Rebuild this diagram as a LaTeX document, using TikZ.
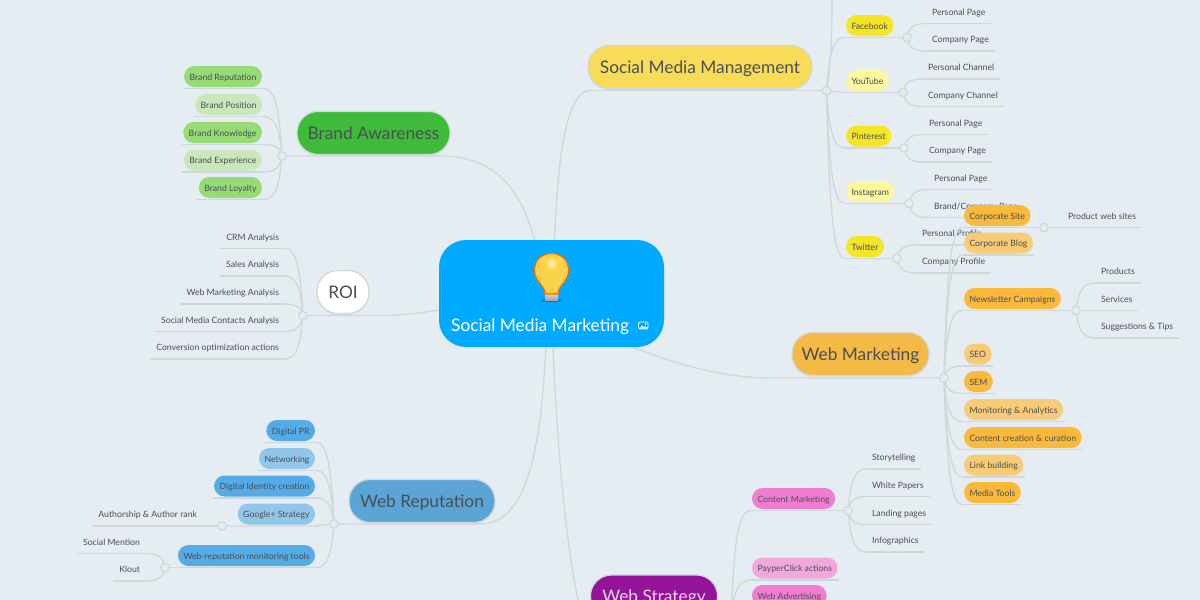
\documentclass[tikz,border=0pt]{standalone}
\usepackage{fontspec}
\setmainfont{Lato}
\usetikzlibrary{calc}
\usetikzlibrary{shadows}
\definecolor{mback}{HTML}{E5EDF2}
\definecolor{mlink}{HTML}{CFD7DB}
\definecolor{mtext}{HTML}{4A4F55}
\definecolor{mroot}{HTML}{00AAFF}
\definecolor{mgreen}{HTML}{97DB77}
\definecolor{mgreenl}{HTML}{C8E8BC}
\definecolor{mgreend}{HTML}{3EBB38}
\definecolor{myellow}{HTML}{F5E527}
\definecolor{myellowl}{HTML}{FBF8A0}
\definecolor{myellowd}{HTML}{F8DC58}
\definecolor{morange}{HTML}{FAB93A}
\definecolor{morangel}{HTML}{F8CB76}
\definecolor{moranged}{HTML}{F5B945}
\definecolor{mblue}{HTML}{55ABE5}
\definecolor{mbluel}{HTML}{90C6EA}
\definecolor{mblued}{HTML}{5AA5D6}
\definecolor{mpink}{HTML}{F07DD0}
\definecolor{mpinkl}{HTML}{F2A8DE}
\definecolor{mpurple}{HTML}{95149A}
\definecolor{mbulba}{HTML}{FFF3C0}
\definecolor{mbulbb}{HTML}{F9D348}
\definecolor{mbulbc}{HTML}{F09A1C}
\pgfdeclareradialshading{mbulb}{\pgfpoint{0bp}{14bp}}{color(0bp)=(mbulba); color(9bp)=(mbulbb); color(26bp)=(mbulbb); color(40bp)=(mbulbc); color(50bp)=(mbulbc)}
\tikzset{
  link/.style={draw=mlink, line width=1.3pt},
  joint/.style={circle, draw=mlink, line width=1.2pt, fill=mback, minimum size=8.5pt, inner sep=0pt},
  topic/.style={rounded corners=21pt, fill=#1, draw=mlink, line width=1.2pt, text=mtext, font=\fontsize{17.3}{20}\selectfont,
    minimum height=43pt, inner xsep=8pt, inner ysep=0pt, text height=12.6pt, text depth=0pt,
    drop shadow={opacity=0.10, shadow xshift=0pt, shadow yshift=-1.5pt}},
  pill/.style={rounded corners=10.5pt, fill=#1, text=mtext, font=\fontsize{8.7}{11}\selectfont, minimum height=21pt,
    inner xsep=5.5pt, inner ysep=0pt, text height=7.4pt, text depth=0pt, outer sep=1.5pt},
  leaf/.style={text=mtext, font=\fontsize{8.7}{11}\selectfont, minimum height=24pt, inner xsep=6pt, inner ysep=0pt,
    text height=7.4pt, text depth=0pt, outer sep=0pt},
}
% junction, end point, sideways offset of the curve
\newcommand{\branchline}[3]{\draw[link] (#1) .. controls ($(#1)!0.7!(#1 |- #2)+(#3*0.4,0)$) and ($(#1 |- #2)+(#3,0)$) .. (#2);}
\newcommand{\rightleaf}[2]{\branchline{#1}{#2.south west}{7}\draw[link] (#2.south west) -- (#2.south east);}
\newcommand{\leftleaf}[2]{\branchline{#1}{#2.south east}{-7}\draw[link] (#2.south east) -- (#2.south west);}
\begin{document}
\begin{tikzpicture}[x=1pt, y=-1pt]
  \clip (0, 0) rectangle (1200, 600);
  \fill [mback] (0, 0) rectangle (1200, 600);

  % brand awareness
  \node [topic=mgreend, minimum width=153pt] (brand) at (373.5, 133) {Brand Awareness};
  \node [joint] (jbrand) at (282, 156) {};
  \node [pill=mgreen, anchor=south east] (breputation) at (263.5, 88.5) {Brand Reputation};
  \node [pill=mgreenl, anchor=south east] (bposition) at (263.5, 116.5) {Brand Position};
  \node [pill=mgreen, anchor=south east] (bknowledge) at (263.5, 144.5) {Brand Knowledge};
  \node [pill=mgreenl, anchor=south east] (bexperience) at (263.5, 172) {Brand Experience};
  \node [pill=mgreen, anchor=south east] (bloyalty) at (263.5, 199.5) {Brand Loyalty};
  \leftleaf{jbrand}{breputation}
  \leftleaf{jbrand}{bposition}
  \leftleaf{jbrand}{bknowledge}
  \leftleaf{jbrand}{bexperience}
  \leftleaf{jbrand}{bloyalty}

  % roi
  \node [topic=white, minimum width=52pt, inner xsep=2pt] (roi) at (343, 292) {ROI};
  \node [joint] (jroi) at (303, 315.5) {};
  \node [leaf, anchor=south east] (rcrm) at (285, 248.5) {CRM Analysis};
  \node [leaf, anchor=south east] (rsales) at (285, 276) {Sales Analysis};
  \node [leaf, anchor=south east] (rweb) at (285, 304) {Web Marketing Analysis};
  \node [leaf, anchor=south east] (rsocial) at (285, 331.5) {Social Media Contacts Analysis};
  \node [leaf, anchor=south east] (rconv) at (285, 359) {Conversion optimization actions};
  \leftleaf{jroi}{rcrm}
  \leftleaf{jroi}{rsales}
  \leftleaf{jroi}{rweb}
  \leftleaf{jroi}{rsocial}
  \leftleaf{jroi}{rconv}

  % web reputation
  \node [topic=mblued, minimum width=146pt] (reputation) at (422, 501) {Web Reputation};
  \node [joint] (jrep) at (334, 524) {};
  \node [pill=mblue, anchor=south east] (rdigital) at (316.5, 442.5) {Digital PR};
  \node [pill=mbluel, anchor=south east] (rnetwork) at (316.5, 470.5) {Networking};
  \node [pill=mblue, anchor=south east] (ridentity) at (316.5, 498) {Digital Identity creation};
  \node [pill=mbluel, anchor=south east] (rgoogle) at (316.5, 526) {Google+ Strategy};
  \node [pill=mblue, anchor=south east] (rmonitor) at (316.5, 567.5) {Web-reputation monitoring tools};
  \node [joint] (jgoogle) at (222, 526) {};
  \node [joint] (jmonitor) at (165, 567.5) {};
  \node [leaf, anchor=south east] (rauthor) at (203, 526) {Authorship \& Author rank};
  \node [leaf, anchor=south east] (rmention) at (146, 553.5) {Social Mention};
  \node [leaf, anchor=south east] (rklout) at (146, 581) {Klout};
  \leftleaf{jrep}{rdigital}
  \leftleaf{jrep}{rnetwork}
  \leftleaf{jrep}{ridentity}
  \leftleaf{jrep}{rmonitor}
  \draw [link] (jrep) -- (rgoogle.south east) -- (rgoogle.south west) -- (jgoogle);
  \draw [link] (jgoogle) -- (rauthor.south east) -- (rauthor.south west);
  \draw [link] (rmonitor.south west) -- (jmonitor);
  \leftleaf{jmonitor}{rmention}
  \leftleaf{jmonitor}{rklout}

  % social media management
  \node [topic=myellowd, minimum width=224pt] (social) at (700, 67) {Social Media Management};
  \node [joint] (jsocial) at (826.5, 90.5) {};
  \node [pill=myellow, anchor=south west] (facebook) at (844.5, 37.5) {Facebook};
  \node [pill=myellowl, anchor=south west] (youtube) at (844.5, 92.5) {YouTube};
  \node [pill=myellow, anchor=south west] (pinterest) at (844.5, 148) {Pinterest};
  \node [pill=myellowl, anchor=south west] (instagram) at (844.5, 203.5) {Instagram};
  \node [pill=myellow, anchor=south west] (twitter) at (844.5, 258.5) {Twitter};
  \node [joint] (jfacebook) at (907, 37.5) {};
  \node [joint] (jyoutube) at (903, 92.5) {};
  \node [joint] (jpinterest) at (904, 148) {};
  \node [joint] (jinstagram) at (909, 203.5) {};
  \node [joint] (jtwitter) at (897, 258.5) {};
  \node [leaf, anchor=south west] (fpersonal) at (926, 23.5) {Personal Page};
  \node [leaf, anchor=south west] (fcompany) at (926, 51) {Company Page};
  \node [leaf, anchor=south west] (ypersonal) at (922, 79) {Personal Channel};
  \node [leaf, anchor=south west] (ycompany) at (922, 106.5) {Company Channel};
  \node [leaf, anchor=south west] (ppersonal) at (923, 134.5) {Personal Page};
  \node [leaf, anchor=south west] (pcompany) at (923, 162) {Company Page};
  \node [leaf, anchor=south west] (ipersonal) at (928, 189.5) {Personal Page};
  \node [leaf, anchor=south west] (icompany) at (928, 217.5) {Brand/Company Page};
  \node [leaf, anchor=south west] (tpersonal) at (916, 245) {Personal Profile};
  \node [leaf, anchor=south west] (tcompany) at (916, 273) {Company Profile};
  \coordinate (topend) at (832, 0);
  \draw [link] (jsocial) .. controls (830, 70) and (832, 40) .. (topend);
  \rightleaf{jsocial}{facebook}
  \draw [link] (jsocial) -- (youtube.south west) -- (youtube.south east) -- (jyoutube);
  \rightleaf{jsocial}{pinterest}
  \rightleaf{jsocial}{instagram}
  \rightleaf{jsocial}{twitter}
  \draw [link] (facebook.south east) -- (jfacebook);
  \draw [link] (pinterest.south east) -- (jpinterest);
  \draw [link] (instagram.south east) -- (jinstagram);
  \draw [link] (twitter.south east) -- (jtwitter);
  \rightleaf{jfacebook}{fpersonal}
  \rightleaf{jfacebook}{fcompany}
  \rightleaf{jyoutube}{ypersonal}
  \rightleaf{jyoutube}{ycompany}
  \rightleaf{jpinterest}{ppersonal}
  \rightleaf{jpinterest}{pcompany}
  \rightleaf{jinstagram}{ipersonal}
  \rightleaf{jinstagram}{icompany}
  \rightleaf{jtwitter}{tpersonal}
  \rightleaf{jtwitter}{tcompany}

  % web marketing
  \node [topic=moranged, minimum width=137pt] (marketing) at (860.5, 354) {Web Marketing};
  \node [joint] (jmarket) at (944, 378) {};
  \node [pill=morange, anchor=south west] (corpsite) at (962.5, 227.5) {Corporate Site};
  \node [pill=morangel, anchor=south west] (corpblog) at (962.5, 255) {Corporate Blog};
  \node [pill=morange, anchor=south west] (newsletter) at (962.5, 310.5) {Newsletter Campaigns};
  \node [pill=morangel, anchor=south west] (seo) at (962.5, 366) {SEO};
  \node [pill=morange, anchor=south west] (sem) at (962.5, 393.5) {SEM};
  \node [pill=morangel, anchor=south west] (monitoring) at (962.5, 421.5) {Monitoring \& Analytics};
  \node [pill=morange, anchor=south west] (content) at (962.5, 449.5) {Content creation \& curation};
  \node [pill=morangel, anchor=south west] (linkb) at (962.5, 477) {Link building};
  \node [pill=morange, anchor=south west] (mediat) at (962.5, 504.5) {Media Tools};
  \node [joint] (jcorp) at (1044, 227.5) {};
  \node [joint] (jnews) at (1076, 310.5) {};
  \node [leaf, anchor=south west] (mproduct) at (1062, 227.5) {Product web sites};
  \node [leaf, anchor=south west] (mproducts) at (1095, 283) {Products};
  \node [leaf, anchor=south west] (mservices) at (1095, 310.5) {Services};
  \node [leaf, anchor=south west] (mtips) at (1095, 338) {Suggestions \& Tips};
  \rightleaf{jmarket}{corpsite}
  \rightleaf{jmarket}{corpblog}
  \rightleaf{jmarket}{newsletter}
  \rightleaf{jmarket}{seo}
  \rightleaf{jmarket}{sem}
  \rightleaf{jmarket}{monitoring}
  \rightleaf{jmarket}{content}
  \rightleaf{jmarket}{linkb}
  \rightleaf{jmarket}{mediat}
  \draw [link] (corpsite.south east) -- (jcorp) -- (mproduct.south west) -- (mproduct.south east);
  \draw [link] (newsletter.south east) -- (jnews) -- (mservices.south west) -- (mservices.south east);
  \rightleaf{jnews}{mproducts}
  \rightleaf{jnews}{mtips}

  % web strategy
  \node [topic=mpurple, minimum width=127pt, text=mback!70!mpinkl] (strategy) at (654, 596.5) {Web Strategy};
  \node [joint] (jstrategy) at (731, 621) {};
  \node [pill=mpink, anchor=south west] (scontent) at (750.5, 510.5) {Content Marketing};
  \node [pill=mpinkl, anchor=south west] (spayper) at (750.5, 580) {PayperClick actions};
  \node [pill=mpink, anchor=south west] (sadvert) at (750.5, 607.5) {Web Advertising};
  \node [joint] (jcontent) at (848, 510.5) {};
  \node [leaf, anchor=south west] (sstory) at (866, 469) {Storytelling};
  \node [leaf, anchor=south west] (swhite) at (866, 496.5) {White Papers};
  \node [leaf, anchor=south west] (sland) at (866, 524.5) {Landing pages};
  \node [leaf, anchor=south west] (sinfo) at (866, 552) {Infographics};
  \rightleaf{jstrategy}{scontent}
  \rightleaf{jstrategy}{spayper}
  \rightleaf{jstrategy}{sadvert}
  \draw [link] (scontent.south east) -- (jcontent);
  \rightleaf{jcontent}{sstory}
  \rightleaf{jcontent}{swhite}
  \rightleaf{jcontent}{sland}
  \rightleaf{jcontent}{sinfo}

  % central topic
  \coordinate (rbrand) at (535, 241);
  \coordinate (rroi) at (440, 310);
  \coordinate (rsocial2) at (554.5, 241);
  \coordinate (rmarket) at (630, 346);
  \coordinate (rrep) at (546, 346);
  \coordinate (rstrat) at (553, 346);
  \draw [link] (jbrand) -- (440, 156) .. controls (500, 156) and (522, 195) .. (rbrand);
  \draw [link] (jroi) -- (380, 315.5) .. controls (400, 315.5) and (420, 313) .. (rroi);
  \draw [link] (jsocial) -- (590, 90.5) .. controls (570, 90.5) and (558, 140) .. (rsocial2);
  \draw [link] (rmarket) .. controls (670, 362) and (720, 378) .. (770, 378) -- (jmarket);
  \draw [link] (rrep) .. controls (541, 440) and (530, 524) .. (480, 524) -- (jrep);
  \draw [link] (rstrat) .. controls (556, 430) and (565, 540) .. (578, 600) .. controls (584, 621) .. (600, 621) -- (jstrategy);
  \node [rounded corners=27pt, fill=mroot, minimum width=225pt, minimum height=107pt, inner sep=0pt] (root) at (551.5, 293.5) {};
  \node [text=white, font=\fontsize{17.3}{20}\selectfont, inner sep=0pt, anchor=base west] (roottext) at (451, 331.5) {Social Media Marketing};

  % bulb
  \fill [black, opacity=0.25] (551.5, 300.5) ellipse (10 and 2);
  \shade [top color=gray!30, bottom color=gray!70] (545, 293) rectangle (558, 300);
  \draw [draw=orange!85!red, line width=1.2pt, shading=mbulb]
    (545, 294) .. controls (545, 285) and (534.5, 282) .. (534.5, 270) .. controls (534.5, 260) and (542, 253.5) .. (551.5, 253.5)
    .. controls (561, 253.5) and (568.5, 260) .. (568.5, 270) .. controls (568.5, 282) and (558, 285) .. (558, 294) -- cycle;

  % image mark
  \draw [white, line width=0.9pt, rounded corners=1.5pt] (638.5, 322) rectangle (648, 329);
  \fill [white] (639.5, 328.5) -- (642, 325.5) -- (644, 327.5) -- (645.5, 326) -- (647.5, 328.5) -- cycle;
  \fill [white] (645.5, 324) circle (0.8);
\end{tikzpicture}
\end{document}
